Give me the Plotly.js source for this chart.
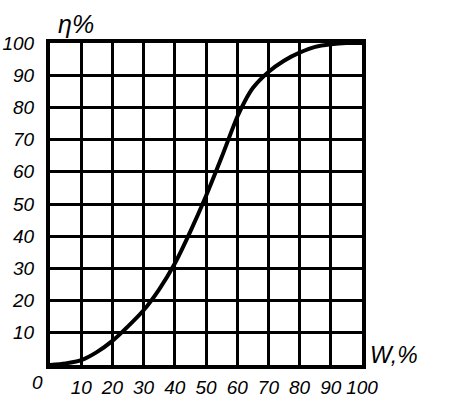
<!DOCTYPE html>
<html>
<head>
<meta charset="utf-8">
<script src="https://cdn.plot.ly/plotly-3.0.1.min.js"></script>
<style>html,body{margin:0;padding:0;background:#fff;}#chart{width:451px;height:415px;}
.xtick text, .ytick text, .annotation-text {font-style: italic !important; font-stretch: condensed;}</style>
</head>
<body>
<div id="chart"></div>
<script>
var wValues = [0, 5, 10, 15, 20, 25, 30, 35, 40, 45, 50, 55, 60, 62.5, 65, 70, 75, 80, 85, 90, 95, 100];
var etaValues = [0, 0.5, 1.5, 4, 7.5, 12, 17, 23.5, 31.5, 41.5, 52.5, 64.5, 77, 82, 86, 91, 94.5, 97, 98.8, 99.6, 100, 100];
var xTickVals = [10, 20, 30, 40, 50, 60, 70, 80, 90, 100];
var xTickText = ["10", "20", "30", "40", "50", "60", "70", "80", "90", "100"];
var yTickVals = [10, 20, 30, 40, 50, 60, 70, 80, 90, 100];
var yTickText = ["10", "20", "30", "40", "50", "60", "70", "80", "90", "100"];
var xTitle = "W,%";
var yTitle = "η%";
var originLabel = "0";

var fontFam = "Liberation Sans Narrow, Liberation Sans, Arial, sans-serif";
var tickFont = {family: fontFam, size: 19, color: '#000', style: 'italic'};

var trace = {
  x: wValues, y: etaValues, type: 'scatter', mode: 'lines',
  line: {color: '#000', width: 4, shape: 'spline', smoothing: 0.8},
  hoverinfo: 'skip'
};

var layout = {
  width: 451, height: 415,
  margin: {l: 50, r: 89, t: 43, b: 50},
  paper_bgcolor: '#fff', plot_bgcolor: '#fff',
  showlegend: false,
  xaxis: {
    range: [0, 100], tickvals: xTickVals, ticktext: xTickText,
    showgrid: true, gridcolor: '#000', gridwidth: 3,
    zeroline: false, showline: true, mirror: true, linecolor: '#000', linewidth: 4,
    ticks: '', ticklabelstandoff: 2, tickfont: tickFont, fixedrange: true
  },
  yaxis: {
    range: [0, 100], tickvals: yTickVals, ticktext: yTickText,
    showgrid: true, gridcolor: '#000', gridwidth: 3,
    zeroline: false, showline: true, mirror: true, linecolor: '#000', linewidth: 4,
    ticks: '', ticklabelstandoff: 8, tickfont: tickFont, fixedrange: true
  },
  annotations: [
    {text: originLabel, xref: 'paper', yref: 'paper', x: -0.04, y: -0.055, xanchor: 'center', yanchor: 'middle', showarrow: false, font: tickFont},
    {text: xTitle, xref: 'paper', yref: 'paper', x: 1.02, y: 0.03, xanchor: 'left', yanchor: 'middle', showarrow: false, font: {family: fontFam, size: 23, color: '#000', style: 'italic'}},
    {text: yTitle, xref: 'paper', yref: 'paper', x: 0.02, y: 1.01, xanchor: 'left', yanchor: 'bottom', showarrow: false, font: {family: fontFam, size: 25, color: '#000', style: 'italic'}}
  ]
};

Plotly.newPlot('chart', [trace], layout, {displayModeBar: false, staticPlot: true});
</script>
</body>
</html>
